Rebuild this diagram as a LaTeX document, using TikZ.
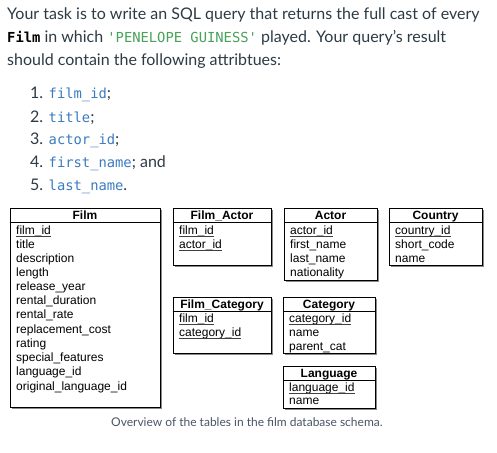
\documentclass[tikz,border=0pt]{standalone}
\usepackage{fontspec}
\setmainfont{Lato}
\newfontfamily\arialf{Liberation Sans}
\newfontfamily\monof{DejaVu Sans Mono}
\definecolor{txt}{HTML}{2D3B45}
\definecolor{codeblue}{HTML}{3B7BC0}
\definecolor{codegreen}{HTML}{47A25A}
\definecolor{capc}{HTML}{4A5568}
\definecolor{shadowc}{HTML}{8A8A8A}
\newcommand\mono[1]{{\monof\fontsize{13.8}{16}\selectfont #1}}
\newcommand\code[1]{\mono{\color{codeblue}#1}}
\newcommand\keyline[1]{\draw[keyul] ([yshift=-2pt,xshift=-0.5pt]#1.base west) -- ([yshift=-2pt]#1.base east);}
\tikzset{
  para/.style={anchor=base west, inner sep=0pt, font=\fontsize{16}{19}\selectfont, text=txt},
  tablebox/.style={draw=black, fill=white, line width=1pt, inner sep=0pt},
  tshadow/.style={fill=shadowc},
  thead/.style={anchor=base, inner sep=0pt, font=\arialf\bfseries\fontsize{12}{14}\selectfont},
  field/.style={anchor=base west, inner sep=0pt, font=\arialf\fontsize{12}{14}\selectfont},
  hline/.style={line width=1pt},
  keyul/.style={line width=0.9pt, draw=black!75},
}
\begin{document}
\begin{tikzpicture}[x=1pt,y=-1pt]
\useasboundingbox[fill=white] (0,0) rectangle (497,452);

% ---- task text ----
\node[para] (l1) at (7,20) {Your task is to write an SQL query that returns the full cast of every};
\node[para] (l2) at (7,42) {\mono{\bfseries\color{black}Film} in which \mono{\color{codegreen}'PENELOPE GUINESS'} played. Your query's result};
\node[para] (l3) at (7,65) {should contain the following attribtues:};
\node[para] (i1) at (30,98) {1. \code{film\_id};};
\node[para] (i2) at (30,122) {2. \code{title};};
\node[para] (i3) at (30,144) {3. \code{actor\_id};};
\node[para] (i4) at (30,167) {4. \code{first\_name}; and};
\node[para] (i5) at (30,190) {5. \code{last\_name}.};

% ---- Film ----
\fill[tshadow] (11.5,209.5) rectangle (161.5,408.5);
\node[tablebox, minimum width=150pt, minimum height=199pt] (film) at (85,307.5) {};
\draw[hline] (film.west |- 0,222) -- (film.east |- 0,222);
\node[thead] (filmh) at (85,219) {Film};
\node[field] (film1) at (16,234) {film\_id};
\node[field] (film2) at (16,248) {title};
\node[field] (film3) at (16,262) {description};
\node[field] (film4) at (16,276) {length};
\node[field] (film5) at (16,290) {release\_year};
\node[field] (film6) at (16,304.5) {rental\_duration};
\node[field] (film7) at (16,318.5) {rental\_rate};
\node[field] (film8) at (16,333) {replacement\_cost};
\node[field] (film9) at (16,347) {rating};
\node[field] (film10) at (16,361) {special\_features};
\node[field] (film11) at (16,375.5) {language\_id};
\node[field] (film12) at (16,390) {original\_language\_id};
\keyline{film1}

% ---- Film_Actor ----
\fill[tshadow] (174.5,209.5) rectangle (272.5,266.5);
\node[tablebox, minimum width=98pt, minimum height=57pt] (fa) at (222,236.5) {};
\draw[hline] (fa.west |- 0,222) -- (fa.east |- 0,222);
\node[thead] (fah) at (222,219) {Film\_Actor};
\node[field] (fa1) at (179,234) {film\_id};
\node[field] (fa2) at (179,248) {actor\_id};
\keyline{fa1}
\keyline{fa2}

% ---- Film_Category ----
\fill[tshadow] (174.5,298.5) rectangle (272.5,354.5);
\node[tablebox, minimum width=98pt, minimum height=56pt] (fc) at (222,325) {};
\draw[hline] (fc.west |- 0,311) -- (fc.east |- 0,311);
\node[thead] (fch) at (222,308) {Film\_Category};
\node[field] (fc1) at (179,322) {film\_id};
\node[field] (fc2) at (179,336) {category\_id};
\keyline{fc1}
\keyline{fc2}

% ---- Actor ----
\fill[tshadow] (285.5,209.5) rectangle (378.5,281.5);
\node[tablebox, minimum width=93pt, minimum height=72pt] (actor) at (330.5,244) {};
\draw[hline] (actor.west |- 0,222) -- (actor.east |- 0,222);
\node[thead] (actorh) at (330.5,219) {Actor};
\node[field] (actor1) at (290,234) {actor\_id};
\node[field] (actor2) at (290,248) {first\_name};
\node[field] (actor3) at (290,262) {last\_name};
\node[field] (actor4) at (290,276) {nationality};
\keyline{actor1}

% ---- Country ----
\fill[tshadow] (390.5,209.5) rectangle (483.5,266.5);
\node[tablebox, minimum width=93pt, minimum height=57pt] (country) at (435.5,236.5) {};
\draw[hline] (country.west |- 0,222) -- (country.east |- 0,222);
\node[thead] (countryh) at (435.5,219) {Country};
\node[field] (country1) at (395,234) {country\_id};
\node[field] (country2) at (395,248) {short\_code};
\node[field] (country3) at (395,262) {name};
\keyline{country1}

% ---- Category ----
\fill[tshadow] (284.5,298.5) rectangle (376.5,354.5);
\node[tablebox, minimum width=92pt, minimum height=56pt] (cat) at (329,325) {};
\draw[hline] (cat.west |- 0,311) -- (cat.east |- 0,311);
\node[thead] (cath) at (329,308) {Category};
\node[field] (cat1) at (289,322) {category\_id};
\node[field] (cat2) at (289,336) {name};
\node[field] (cat3) at (289,350) {parent\_cat};
\keyline{cat1}

% ---- Language ----
\fill[tshadow] (284.5,367.5) rectangle (376.5,409.5);
\node[tablebox, minimum width=92pt, minimum height=42pt] (lang) at (329,387) {};
\draw[hline] (lang.west |- 0,380) -- (lang.east |- 0,380);
\node[thead] (langh) at (329,377) {Language};
\node[field] (lang1) at (289,391) {language\_id};
\node[field] (lang2) at (289,404) {name};
\keyline{lang1}

% ---- caption ----
\node[anchor=base west, inner sep=0pt, font=\fontsize{12}{14}\selectfont, text=capc] (cap) at (111,426) {Overview of the tables in the film database schema.};
\end{tikzpicture}
\end{document}
